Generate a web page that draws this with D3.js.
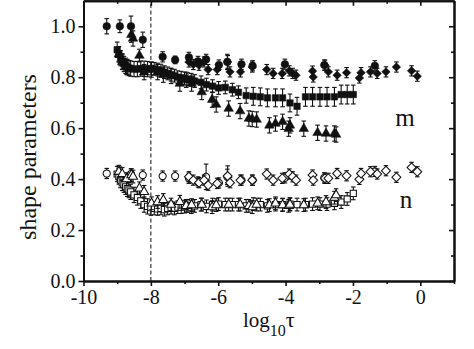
<!DOCTYPE html>
<html>
<head>
<meta charset="utf-8">
<script src="https://cdn.jsdelivr.net/npm/d3@7"></script>
<style>
  body { margin: 0; background: #fff; }
  svg { display: block; }
  text { font-family: "Liberation Serif", "Times New Roman", serif; fill: #111; }
</style>
</head>
<body>
<svg id="chart" width="474" height="349"></svg>
<script>
// ---- data: shape parameters m (filled) and n (open) versus log10(tau) ----

// circle set
const circX = [-9.31, -8.92, -8.59, -8.24, -7.65, -7.28, -6.87, -6.6, -6.36, -5.98, -5.73, -5.31, -4.98, -4.02, -2.85, -1.35];
const circM = [1.0, 1.0, 1.0, 0.947, 0.88, 0.868, 0.878, 0.862, 0.870, 0.848, 0.86, 0.851, 0.845, 0.851, 0.848, 0.845];
const circMErr = [0.03, 0.025, 0.04, 0.03, 0.02, 0.015, 0.02, 0.02, 0.02, 0.02, 0.03, 0.02, 0.02, 0.02, 0.02, 0.02];
const circN = [0.422, 0.418, 0.42, 0.416, 0.412, 0.412, 0.403, 0.389, 0.409, 0.385, 0.409, 0.396, 0.396, 0.405, 0.405, 0.43];
const circNErr = [0.02, 0.03, 0.02, 0.02, 0.02, 0.02, 0.02, 0.02, 0.05, 0.02, 0.03, 0.02, 0.02, 0.02, 0.02, 0.02];

// diamond set
const diaX = [-6.87, -6.74, -6.57, -6.42, -6.3, -6.03, -5.72, -5.65, -5.34, -4.99, -4.56, -4.37, -4.10, -3.89, -3.79, -3.69, -3.20, -3.18, -2.83, -2.73, -2.47, -2.19, -1.81, -1.76, -1.48, -1.28, -1.02, -0.71, -0.26, -0.09];
const diaM = [0.86, 0.85, 0.847, 0.86, 0.83, 0.83, 0.86, 0.821, 0.821, 0.84, 0.83, 0.815, 0.815, 0.825, 0.815, 0.808, 0.824, 0.801, 0.847, 0.821, 0.808, 0.818, 0.797, 0.818, 0.821, 0.815, 0.821, 0.84, 0.825, 0.804];
const diaMErr = [0.02, 0.02, 0.02, 0.02, 0.02, 0.02, 0.025, 0.02, 0.02, 0.02, 0.02, 0.02, 0.02, 0.02, 0.02, 0.02, 0.02, 0.02, 0.02, 0.02, 0.02, 0.02, 0.02, 0.02, 0.02, 0.02, 0.02, 0.02, 0.02, 0.02];
const diaN = [0.409, 0.396, 0.386, 0.396, 0.376, 0.383, 0.412, 0.386, 0.396, 0.396, 0.420, 0.396, 0.403, 0.420, 0.409, 0.396, 0.416, 0.396, 0.403, 0.403, 0.422, 0.413, 0.399, 0.422, 0.429, 0.420, 0.433, 0.407, 0.446, 0.429];
const diaNErr = [0.02, 0.02, 0.02, 0.02, 0.02, 0.02, 0.04, 0.02, 0.02, 0.02, 0.02, 0.02, 0.02, 0.02, 0.02, 0.02, 0.02, 0.02, 0.02, 0.02, 0.02, 0.02, 0.02, 0.02, 0.02, 0.02, 0.02, 0.02, 0.02, 0.02];

// square set
const sqX = [-9.0, -8.95, -8.9, -8.85, -8.8, -8.75, -8.7, -8.65, -8.6, -8.5, -8.4, -8.3, -8.2, -8.1, -8.0, -7.9, -7.8, -7.7, -7.6, -7.5, -7.4, -7.3, -7.2, -7.1, -7.0, -6.9, -6.8, -6.7,
             -6.51, -6.35, -6.17, -5.99, -5.79, -5.58, -5.40, -5.17, -4.96, -4.75, -4.54, -4.30, -4.09, -3.87, -3.66, -3.41, -3.20, -2.98, -2.77, -2.55, -2.35, -2.17, -1.99];
const sqM = [0.908, 0.89, 0.875, 0.862, 0.852, 0.845, 0.84, 0.836, 0.834, 0.832, 0.832, 0.834, 0.833, 0.832, 0.834, 0.833, 0.83, 0.826, 0.82, 0.815, 0.81, 0.806, 0.80, 0.798, 0.795, 0.792, 0.79, 0.785,
             0.78, 0.771, 0.765, 0.758, 0.76, 0.751, 0.741, 0.728, 0.725, 0.723, 0.719, 0.719, 0.719, 0.699, 0.686, 0.723, 0.723, 0.723, 0.723, 0.723, 0.732, 0.732, 0.732];
const sqMErr = [0.03, 0.03, 0.03, 0.03, 0.03, 0.03, 0.03, 0.03, 0.03, 0.03, 0.03, 0.03, 0.03, 0.03, 0.025, 0.025, 0.025, 0.025, 0.025, 0.025, 0.025, 0.025, 0.025, 0.025, 0.025, 0.025, 0.025, 0.025,
                0.025, 0.025, 0.025, 0.025, 0.025, 0.025, 0.025, 0.03, 0.035, 0.035, 0.035, 0.035, 0.035, 0.035, 0.035, 0.037, 0.037, 0.037, 0.037, 0.037, 0.037, 0.037, 0.037];
const sqN = [0.42, 0.41, 0.396, 0.385, 0.378, 0.37, 0.362, 0.357, 0.35, 0.338, 0.328, 0.315, 0.30, 0.293, 0.288, 0.285, 0.283, 0.285, 0.28, 0.285, 0.288, 0.285, 0.29, 0.29, 0.292, 0.295, 0.29, 0.295,
             0.30, 0.293, 0.30, 0.302, 0.30, 0.30, 0.30, 0.295, 0.302, 0.30, 0.295, 0.30, 0.30, 0.302, 0.30, 0.30, 0.302, 0.302, 0.302, 0.305, 0.31, 0.322, 0.344];
const sqNErr = [0.03, 0.03, 0.03, 0.03, 0.03, 0.03, 0.03, 0.03, 0.03, 0.03, 0.03, 0.03, 0.03, 0.03, 0.03, 0.025, 0.025, 0.025, 0.025, 0.025, 0.025, 0.025, 0.025, 0.025, 0.025, 0.025, 0.025, 0.025,
                0.025, 0.025, 0.025, 0.025, 0.025, 0.025, 0.025, 0.025, 0.025, 0.025, 0.025, 0.025, 0.025, 0.025, 0.025, 0.025, 0.025, 0.025, 0.025, 0.025, 0.025, 0.025, 0.025];

// triangle set
const triX = [-8.95, -8.85, -8.72, -8.58, -8.53, -8.34, -8.2, -7.98, -7.8, -7.63, -7.4, -7.14, -6.95, -6.79, -6.49, -6.18, -6.06, -5.69, -5.35, -5.09, -4.99, -4.86, -4.48, -4.30, -4.09, -3.91, -3.87, -3.46, -3.05, -2.80, -2.55, -2.5];
const triM = [0.89, 0.86, 0.84, 0.967, 0.952, 0.885, 0.82, 0.83, 0.82, 0.81, 0.805, 0.775, 0.79, 0.775, 0.742, 0.712, 0.693, 0.677, 0.667, 0.638, 0.636, 0.634, 0.611, 0.618, 0.625, 0.598, 0.611, 0.598, 0.582, 0.579, 0.579, 0.575];
const triMErr = [0.03, 0.03, 0.03, 0.03, 0.03, 0.025, 0.03, 0.03, 0.03, 0.03, 0.03, 0.03, 0.03, 0.03, 0.03, 0.03, 0.03, 0.03, 0.03, 0.03, 0.03, 0.03, 0.03, 0.03, 0.03, 0.03, 0.03, 0.03, 0.03, 0.03, 0.03, 0.03];
const triN = [0.429, 0.42, 0.40, 0.416, 0.41, 0.364, 0.35, 0.305, 0.31, 0.318, 0.30, 0.311, 0.295, 0.298, 0.30, 0.29, 0.298, 0.30, 0.30, 0.295, 0.29, 0.30, 0.298, 0.305, 0.298, 0.295, 0.30, 0.298, 0.305, 0.31, 0.327, 0.337];
const triNErr = [0.025, 0.025, 0.025, 0.025, 0.025, 0.025, 0.025, 0.025, 0.025, 0.025, 0.025, 0.025, 0.025, 0.025, 0.025, 0.025, 0.025, 0.025, 0.025, 0.025, 0.025, 0.025, 0.025, 0.025, 0.025, 0.025, 0.025, 0.025, 0.025, 0.025, 0.025, 0.025];

// axis ticks
const xMajor = [-10, -8, -6, -4, -2, 0];
const xMinor = [-9, -7, -5, -3, -1, 1];
const yMajor = [0.0, 0.2, 0.4, 0.6, 0.8, 1.0];
const yMinor = [0.1, 0.3, 0.5, 0.7, 0.9];
const cutoff = -8;

// ---- layout ----
const svg = d3.select("#chart");
const pL = 83.5, pR = 454, pT = 0.8, pB = 281;
const x = d3.scaleLinear().domain([-10, 1]).range([pL, pR]);
const y = d3.scaleLinear().domain([0, 1.1]).range([pB, pT]);
const ink = "#111";

// dashed reference line
svg.append("line")
  .attr("x1", x(cutoff)).attr("x2", x(cutoff))
  .attr("y1", y(0)).attr("y2", y(1.1))
  .attr("stroke", "#222").attr("stroke-width", 1.1)
  .attr("stroke-dasharray", "4,2.5");

// series drawing: error bars first, then symbols
function drawSeries(xs, ys, errs, symbol, size, filled, rotate) {
  const g = svg.append("g");
  const pts = xs.map((v, i) => ({ x: v, y: ys[i], e: errs[i] }));
  const eb = g.append("g").attr("stroke", ink).attr("stroke-width", 1.1).attr("fill", "none");
  pts.forEach(p => {
    const cx = x(p.x), y0 = y(p.y - p.e), y1 = y(p.y + p.e);
    eb.append("line").attr("x1", cx).attr("x2", cx).attr("y1", y0).attr("y2", y1);
    eb.append("line").attr("x1", cx - 2.3).attr("x2", cx + 2.3).attr("y1", y0).attr("y2", y0);
    eb.append("line").attr("x1", cx - 2.3).attr("x2", cx + 2.3).attr("y1", y1).attr("y2", y1);
  });
  const path = d3.symbol().type(symbol).size(size)();
  g.append("g").selectAll("path").data(pts).join("path")
    .attr("d", path)
    .attr("transform", d => `translate(${x(d.x)},${y(d.y)})` + (rotate ? ` rotate(${rotate})` : ""))
    .attr("fill", filled ? ink : "#fff")
    .attr("stroke", ink)
    .attr("stroke-width", filled ? 0.5 : 1.05);
}

// n (open symbols)
drawSeries(circX, circN, circNErr, d3.symbolCircle, 40, false);
drawSeries(diaX, diaN, diaNErr, d3.symbolSquare, 40, false, 45);
drawSeries(sqX, sqN, sqNErr, d3.symbolSquare, 38, false);
drawSeries(triX, triN, triNErr, d3.symbolTriangle, 36, false);

// m (filled symbols)
drawSeries(circX, circM, circMErr, d3.symbolCircle, 46, true);
drawSeries(diaX, diaM, diaMErr, d3.symbolSquare, 36, true, 45);
drawSeries(sqX, sqM, sqMErr, d3.symbolSquare, 42, true);
drawSeries(triX, triM, triMErr, d3.symbolTriangle, 40, true);

// ---- axes ----
const fmt = d3.format(".1f");
function styleAxis(g) {
  g.selectAll("path.domain").attr("stroke", ink).attr("stroke-width", 2);
  g.selectAll(".tick line").attr("stroke", ink).attr("stroke-width", 1.6);
  g.selectAll("text").style("font-family", '"Liberation Serif", serif').style("font-size", "20px").attr("fill", "#111");
}

// bottom
svg.append("g").attr("transform", `translate(0,${pB})`)
  .call(d3.axisBottom(x).tickValues(xMajor).tickSize(5).tickSizeOuter(0).tickPadding(4)
    .tickFormat(d => String(d)))
  .call(styleAxis);
svg.append("g").attr("transform", `translate(0,${pB})`)
  .call(d3.axisBottom(x).tickValues(xMinor).tickSize(3).tickSizeOuter(0).tickFormat(""))
  .call(styleAxis);
// top (inward)
svg.append("g").attr("transform", `translate(0,${pT})`)
  .call(d3.axisBottom(x).tickValues(xMajor).tickSize(5).tickSizeOuter(0).tickFormat(""))
  .call(styleAxis);
svg.append("g").attr("transform", `translate(0,${pT})`)
  .call(d3.axisBottom(x).tickValues(xMinor).tickSize(3).tickSizeOuter(0).tickFormat(""))
  .call(styleAxis);
// left
svg.append("g").attr("transform", `translate(${pL},0)`)
  .call(d3.axisLeft(y).tickValues(yMajor).tickSize(5).tickSizeOuter(0).tickPadding(3).tickFormat(fmt))
  .call(styleAxis);
svg.append("g").attr("transform", `translate(${pL},0)`)
  .call(d3.axisLeft(y).tickValues(yMinor).tickSize(3).tickSizeOuter(0).tickFormat(""))
  .call(styleAxis);
// right (inward)
svg.append("g").attr("transform", `translate(${pR},0)`)
  .call(d3.axisLeft(y).tickValues(yMajor).tickSize(5).tickSizeOuter(0).tickFormat(""))
  .call(styleAxis);
svg.append("g").attr("transform", `translate(${pR},0)`)
  .call(d3.axisLeft(y).tickValues(yMinor).tickSize(3).tickSizeOuter(0).tickFormat(""))
  .call(styleAxis);

// ---- labels ----
svg.append("text")
  .attr("transform", `translate(36,157) rotate(-90)`)
  .attr("text-anchor", "middle")
  .style("font-size", "24px")
  .text("shape parameters");

const xl = svg.append("text")
  .attr("x", (pL + pR) / 2).attr("y", 327)
  .attr("text-anchor", "middle")
  .style("font-size", "21px");
xl.append("tspan").text("log");
xl.append("tspan").attr("dy", 9).style("font-size", "16px").text("10");
xl.append("tspan").attr("dy", -9).style("font-size", "22px").text("τ");

svg.append("text").attr("x", 405).attr("y", 126).attr("text-anchor", "middle")
  .style("font-size", "25px").text("m");
svg.append("text").attr("x", 406).attr("y", 208).attr("text-anchor", "middle")
  .style("font-size", "25px").text("n");
</script>
</body>
</html>
